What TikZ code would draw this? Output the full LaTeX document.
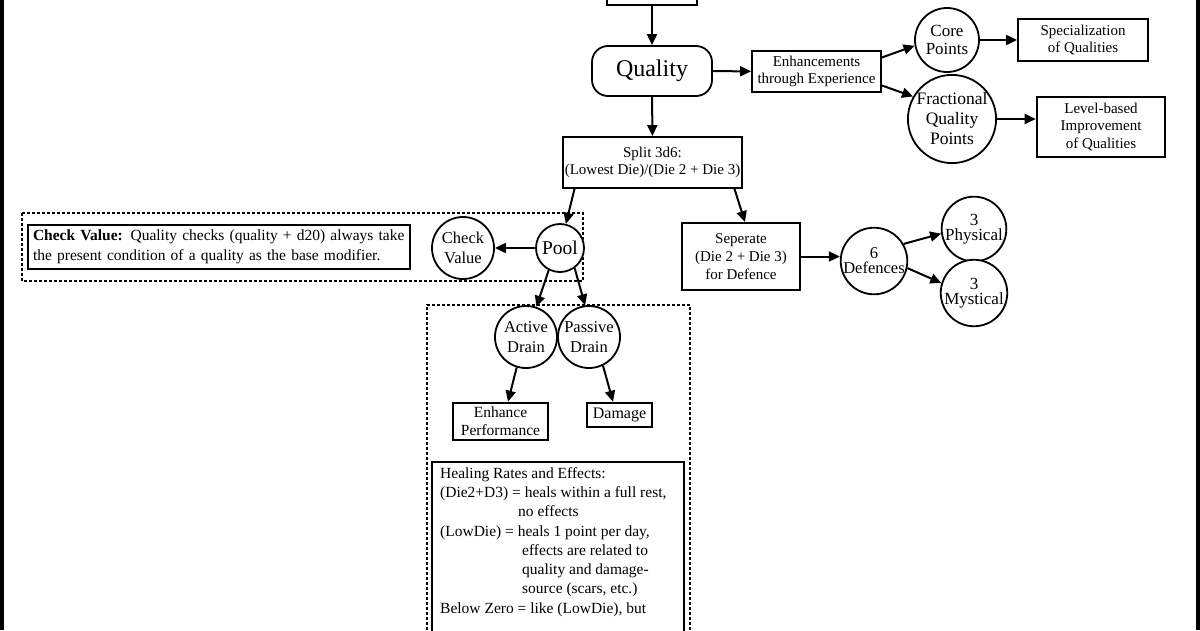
\documentclass[tikz,border=0pt]{standalone}
\usepackage{fontspec}
\setmainfont{Liberation Serif}
\usetikzlibrary{arrows.meta,calc}
\begin{document}
\begin{tikzpicture}[x=1pt,y=-1pt,
 box/.style={draw,line width=1.8pt,fill=white,inner sep=0pt,align=center,font=\fontsize{15}{17.5}\selectfont},
 thickbox/.style={box,line width=2.6pt},
 circ/.style={draw,circle,line width=1.8pt,fill=white,inner sep=0pt,align=center,font=\fontsize{16.5}{19.5}\selectfont},
 arr/.style={line width=2pt,-{Triangle[length=11pt,width=10pt]}},
 dotbox/.style={line width=2.6pt,dash pattern=on 2.6pt off 2.4pt},
]
\useasboundingbox (0,0) rectangle (1200,630);
\clip (0,0) rectangle (1200,630);
\fill[white] (0,0) rectangle (1200,630);
\fill[black] (0,0) rectangle (3.5,630);
\fill[black] (1196,0) rectangle (1200,630);

% dotted groups
\draw[dotbox] (22,213) rectangle (583,281);
\draw[dotbox] (427,650) -- (427,305) -- (690,305) -- (690,650);

% nodes
\node[box,minimum width=90,minimum height=40] (top) at (652,-15) {};
\node[box,rounded corners=16pt,minimum width=120,minimum height=50,font=\fontsize{24}{26}\selectfont] (quality) at (652,71) {Quality};
\node[box,minimum width=129,minimum height=41] (enh) at (816.5,71.5) {Enhancements\\through Experience};
\node[circ,minimum size=64,font=\fontsize{17}{18}\selectfont] (core) at (947,40) {Core\\Points};
\node[circ,minimum size=88,font=\fontsize{17.5}{20}\selectfont] (frac) at (952,119) {Fractional\\Quality\\Points};
\node[box,minimum width=130,minimum height=42] (spec) at (1083,40) {Specialization\\of Qualities};
\node[thickbox,minimum width=128,minimum height=60] (level) at (1101,127) {Level-based\\Improvement\\of Qualities};
\node[box,minimum width=179,minimum height=51] (split) at (652.5,162.5) {Split 3d6:\\(Lowest Die)/(Die 2 + Die 3)};
\node[circ,minimum size=48,font=\fontsize{19.5}{21}\selectfont] (pool) at (560,248) {Pool};
\node[circ,minimum size=62] (check) at (463,248) {Check\\Value};
\node[thickbox,inner xsep=5pt,inner ysep=5pt,text width=372pt,align=left,font=\fontsize{15.5}{20}\selectfont] (cvtext) at (219,247) {\textbf{Check Value:} Quality checks (quality + d20) always take\\the present condition of a quality as the base modifier.};
\node[box,minimum width=118,minimum height=67,font=\fontsize{15}{18}\selectfont] (sep) at (741,256.5) {Seperate\\(Die 2 + Die 3)\\for Defence};
\node[circ,minimum size=66,font=\fontsize{16.5}{15}\selectfont] (def) at (874,261) {6\\Defences};
\node[circ,minimum size=60,font=\fontsize{17}{15}\selectfont] (phys) at (974,229) {3\\Physical};
\node[circ,minimum size=60,font=\fontsize{17}{15}\selectfont] (myst) at (974,293) {3\\Mystical};
\node[circ,minimum size=62,font=\fontsize{16.5}{20}\selectfont] (active) at (526,337) {Active\\Drain};
\node[circ,minimum size=62,font=\fontsize{16.5}{20}\selectfont] (passive) at (589,337) {Passive\\Drain};
\node[thickbox,minimum width=95,minimum height=37,font=\fontsize{15.5}{18}\selectfont] (enhp) at (500.5,421.5) {Enhance\\Performance};
\node[thickbox,minimum width=65,minimum height=24,font=\fontsize{16}{18}\selectfont] (dmg) at (619.5,415) {Damage};

% healing box
\draw[line width=2.4pt] (432,650) -- (432,462) -- (684,462) -- (684,650);
\node[anchor=north west,inner sep=0pt,align=left,font=\fontsize{15.5}{19.3}\selectfont] (heal) at (440,467) {Healing Rates and Effects:\\
(Die2+D3) = heals within a full rest,\\
\hspace*{78pt}no effects\\
(LowDie) = heals 1 point per day,\\
\hspace*{82pt}effects are related to\\
\hspace*{82pt}quality and damage-\\
\hspace*{82pt}source (scars, etc.)\\
Below Zero = like (LowDie), but};

% connectors
\draw[arr] (top) -- (quality);
\draw[arr] (quality) -- (enh);
\draw[arr] (quality) -- (split);
\draw[arr] ([yshift=14pt]enh.east) -- (core.190);
\draw[arr] ([yshift=-14pt]enh.east) -- (frac.150);
\draw[arr] (core) -- (spec);
\draw[arr] (frac.east) -- (frac.east -| level.west);
\draw[arr] ([xshift=-78pt]split.south) -- (pool);
\draw[arr] ([xshift=82pt]split.south) -- ([xshift=4pt]sep.north);
\draw[arr] (pool) -- (check);
\draw[arr] (sep.east) -- (def.west |- sep.east);
\draw[arr] (def.30) -- (phys.188);
\draw[arr] (def.-12) -- (myst.163);
\draw[arr] (pool.243) -- (active.71);
\draw[arr] (pool.306) -- (passive.97);
\draw[arr] (active.253) -- ([xshift=7.5pt]enhp.north);
\draw[arr] (passive.296) -- ([xshift=-6.5pt]dmg.north);
\end{tikzpicture}
\end{document}
